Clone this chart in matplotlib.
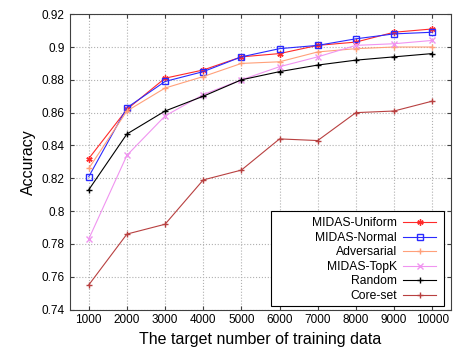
import matplotlib
matplotlib.use("Agg")
import matplotlib.pyplot as plt
from matplotlib.patches import Rectangle

plt.rcParams['font.family'] = ['Liberation Sans', 'DejaVu Sans']

# number of training samples
sizes = [1000, 2000, 3000, 4000, 5000, 6000, 7000, 8000, 9000, 10000]

midas_uniform = [0.832, 0.862, 0.881, 0.886, 0.894, 0.896, 0.901, 0.903, 0.909, 0.911]
midas_normal = [0.821, 0.863, 0.879, 0.885, 0.894, 0.899, 0.901, 0.905, 0.908, 0.909]
adversarial = [0.826, 0.861, 0.875, 0.882, 0.890, 0.891, 0.897, 0.899, 0.900, 0.900]
midas_topk = [0.783, 0.834, 0.858, 0.871, 0.880, 0.888, 0.894, 0.901, 0.902, 0.904]
random_sel = [0.813, 0.847, 0.861, 0.870, 0.880, 0.885, 0.889, 0.892, 0.894, 0.896]
core_set = [0.755, 0.786, 0.792, 0.819, 0.825, 0.844, 0.843, 0.860, 0.861, 0.867]

yticks = [0.74, 0.76, 0.78, 0.8, 0.82, 0.84, 0.86, 0.88, 0.9, 0.92]

fig = plt.figure(figsize=(4.74, 3.55), dpi=100)
ax = fig.add_axes([0.147, 0.128, 0.805, 0.832])

ax.plot(sizes, midas_uniform, color='#ff2a2a', marker=(6, 2, 0), ms=4.5, lw=0.8, label='MIDAS-Uniform')
ax.plot(sizes, midas_normal, color='#2a2aff', marker='s', ms=4.5, mfc='none', lw=0.8, label='MIDAS-Normal')
ax.plot(sizes, adversarial, color='#ffa07a', marker='+', ms=5, lw=0.8, label='Adversarial')
ax.plot(sizes, midas_topk, color='#f094f0', marker='x', ms=4, lw=0.8, label='MIDAS-TopK')
ax.plot(sizes, random_sel, color='black', marker='+', ms=5, lw=0.8, label='Random')
ax.plot(sizes, core_set, color='#b84040', marker='+', ms=5, lw=0.8, label='Core-set')

ax.set_xlim(500, 10500)
ax.set_ylim(0.74, 0.92)
ax.set_xticks(sizes)
ax.set_yticks(yticks)
ax.set_yticklabels([('%g' % v) for v in yticks])
ax.tick_params(direction='in', top=True, right=True, labelsize=8.5, length=3,
               color='#404040')
for s in ax.spines.values():
    s.set_color('#404040')
ax.grid(True, linestyle=':', color='#b0b0b0', lw=0.8)

ax.set_xlabel('The target number of training data', fontsize=11.5)
ax.set_ylabel('Accuracy', fontsize=11.5)

# legend box like matlab: wide frame, labels right-aligned
ax.add_patch(Rectangle((0.528, 0.012), 0.454, 0.321, transform=ax.transAxes,
                       facecolor='white', edgecolor='black', lw=0.8, zorder=4))
leg = ax.legend(loc='lower right', bbox_to_anchor=(0.961, 0.026), markerfirst=False,
                fontsize=8.7, frameon=False, handlelength=2.75, handletextpad=0.5,
                borderpad=0, borderaxespad=0, labelspacing=0.21)
leg.set_zorder(5)
for col in leg._legend_handle_box.get_children():
    col.align = 'right'

plt.savefig('out.png', dpi=100)
